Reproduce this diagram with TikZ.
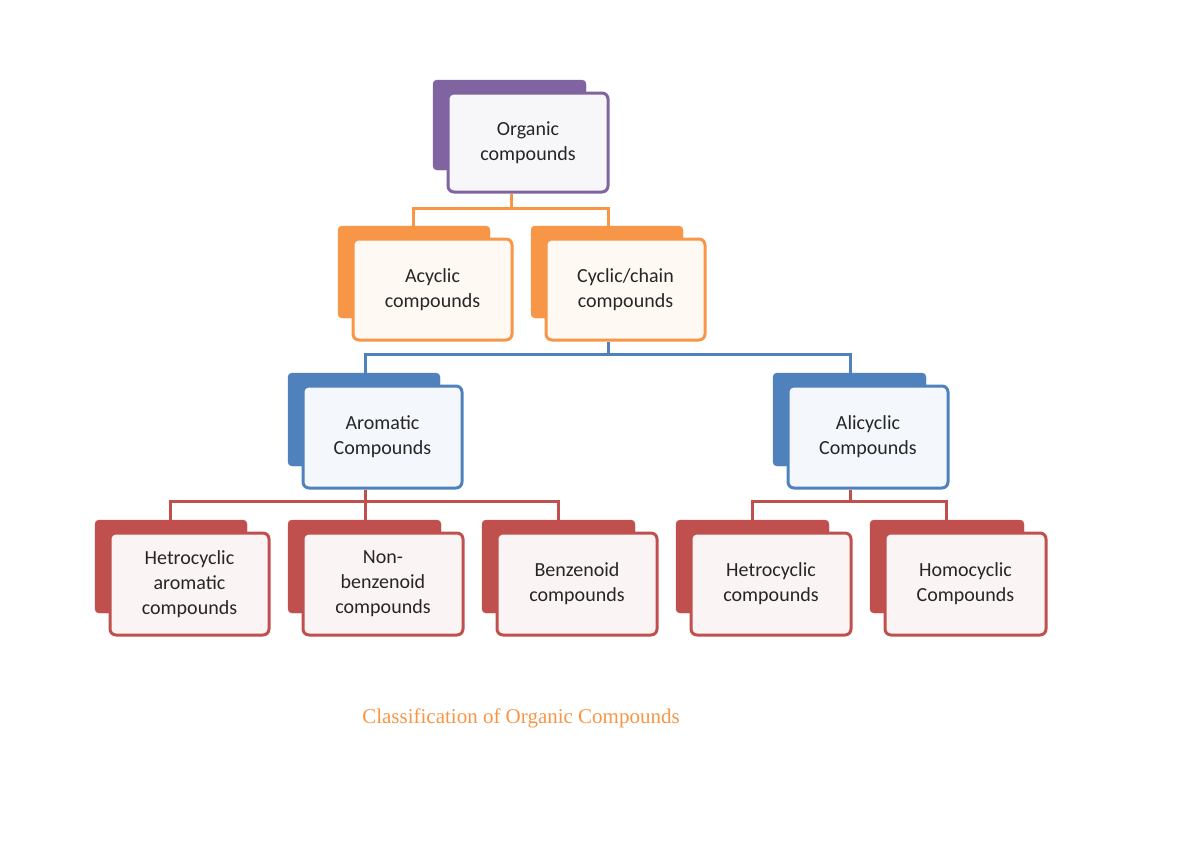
\documentclass[tikz,border=0pt]{standalone}
\usepackage{fontspec}
\setmainfont{Carlito}
\newfontfamily\capfont{Liberation Serif}
\definecolor{cpur}{HTML}{8064A2}
\definecolor{cora}{HTML}{F79646}
\definecolor{cblu}{HTML}{4F81BD}
\definecolor{cred}{HTML}{C0504D}
\begin{document}
\begin{tikzpicture}[x=1pt,y=-1pt,
  back/.style={fill=#1,draw=#1,rounded corners=4pt},
  front/.style={fill=#1!6,draw=#1,line width=3pt,rounded corners=6pt},
  conn/.style={draw=#1,line width=3pt},
  lbl/.style={align=center,font=\fontsize{20}{25}\selectfont,text=black!85}]
\useasboundingbox (0,0) rectangle (1200,849);
\newcommand\mybox[7]{% color, bx1,by1,bx2,by2, name, text ; front offset fixed
  \fill[back=#1] (#2,#3) rectangle (#4-22,#5-22);
  \draw[front=#1] (#2+15,#3+13) rectangle (#4,#5);
  \node[lbl] (#6) at ({(#2+15+#4)/2},{(#3+13+#5)/2}) {#7};}
\mybox{cpur}{433}{80}{608}{192}{org}{Organic\\compounds}
\mybox{cora}{338}{226}{512}{340}{acy}{Acyclic\\compounds}
\mybox{cora}{531}{226}{705}{340}{cyc}{Cyclic/chain\\compounds}
\mybox{cblu}{288}{373}{462}{488}{aro}{Aromatic\\Compounds}
\mybox{cblu}{773}{373}{948}{488}{ali}{Alicyclic\\Compounds}
\mybox{cred}{95}{520}{269}{635}{het}{Hetrocyclic\\aromatic\\compounds}
\mybox{cred}{288}{520}{463}{635}{non}{Non-\\benzenoid\\compounds}
\mybox{cred}{482}{520}{657}{635}{ben}{Benzenoid\\compounds}
\mybox{cred}{676}{520}{851}{635}{het2}{Hetrocyclic\\compounds}
\mybox{cred}{870}{520}{1046}{635}{hom}{Homocyclic\\Compounds}
\draw[conn=cora] (511,194) -- (511,208) (413,226) -- (413,208) -- (608,208) -- (608,226);
\draw[conn=cblu] (608,342) -- (608,354) (365,373) -- (365,354) -- (850,354) -- (850,373);
\draw[conn=cred] (365,490) -- (365,501) (170,520) -- (170,501) -- (558,501) -- (558,520);
\draw[conn=cred] (365,501) -- (365,520);
\draw[conn=cred] (850,490) -- (850,501) (752,520) -- (752,501) -- (946,501) -- (946,520);
\node[font=\capfont\fontsize{21}{25}\selectfont,text=cora] (cap) at (521,718) {Classification of Organic Compounds};
\end{tikzpicture}
\end{document}
